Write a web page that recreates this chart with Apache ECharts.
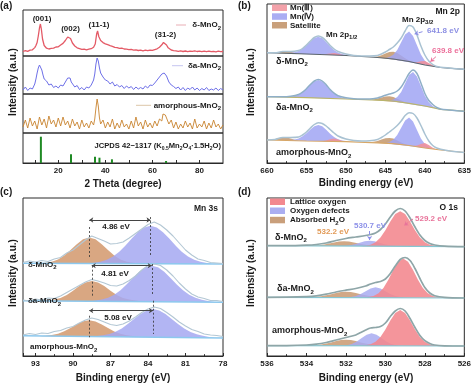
<!DOCTYPE html>
<html><head><meta charset="utf-8">
<script src="https://cdn.jsdelivr.net/npm/echarts@6/dist/echarts.min.js"></script>
<style>html,body{margin:0;padding:0;background:#fff}#c{width:474px;height:387px}</style>
</head><body><div id="c"></div>
<script>
// ---------------- (a) XRD ----------------
const xrdTicks = [20, 40, 60, 80];
const xrdDelta = [[5,4.5],[6,5.4],[7,4.6],[8,5.8],[9,6.2],[10,8.4],[10.5,10.5],[11,13.5],[11.5,20],[12,28],[12.4,32],[12.8,27],[13.3,17],[14,10.5],[15,7.8],[16,7],[17,7.6],[18,7.8],[19,9],[20,9.2],[21,11],[22,12.6],[23,15.5],[24,19],[24.6,21],[25.2,17.5],[26,13],[27,10],[28,8.2],[29,7.4],[30,6.6],[31,6.9],[32,6.1],[33,6.8],[34,7.3],[35,8.8],[35.7,12],[36.3,22],[36.7,25],[37.2,19.5],[38,15.5],[39,13.4],[40,12.2],[41,11.3],[42,10.4],[43,9.7],[44,8.6],[45,8.4],[46,7.6],[47,7.8],[48,7],[49,6.9],[50,6.4],[51,6.6],[52,5.9],[53,6.1],[54,5.5],[55,5.9],[56,5.2],[57,5.8],[58,5.3],[59,5.9],[60,5.6],[61,6.4],[62,7.2],[63,8.8],[64,11.2],[64.7,13.5],[65.3,14],[66,11],[66.7,8.2],[67.5,6.6],[68,6],[69,5.4],[70,5.2],[71,4.7],[72,5.1],[73,4.5],[74,5],[75,4.4],[76,4.9],[77,4.6],[78,5.2],[79,4.5],[80,4.9],[81,4.3],[82,4.8],[83,4.4],[84,4.9],[85,4.3],[86,4.7],[87,4.2],[88,4.8],[89,4.3],[90,4.5]];
const xrdDeltaA = [[5,4],[6,7],[7,3.5],[8,6],[9,5],[10,10],[10.5,15],[11,21],[11.5,26],[12,29],[12.5,28],[13,24],[13.5,19],[14,15],[15,13],[16,9],[17,10],[18,6.5],[19,8],[20,6],[21,9],[22,8],[23,12],[23.5,13],[24,16],[24.5,15],[25,16],[25.5,12],[26,10],[27,7],[28,8.5],[29,4.5],[30,6.5],[31,4],[32,7],[33,6],[34,9],[35,14],[35.5,20],[36,30],[36.5,36],[37,33],[37.5,26],[38,21],[39,17],[40,14],[41,13],[42,10],[43,12],[44,8],[45,9.5],[46,7],[47,8.5],[48,5.5],[49,8],[50,6],[51,7.5],[52,4.5],[53,7],[54,5],[55,6.5],[56,5],[57,8],[58,6],[59,9],[60,8.5],[61,11],[62,14],[63,17],[63.5,19],[64,20],[64.5,22],[65,21],[65.5,20],[66,18],[67,12],[68,9],[69,7.5],[70,5.5],[71,7],[72,4],[73,6.5],[74,3.5],[75,6],[76,4.5],[77,7],[78,4],[79,6],[80,3.5],[81,5.5],[82,4],[83,6.5],[84,3.5],[85,5],[86,4],[87,6],[88,3.5],[89,5.5],[90,4]];
const xrdAmor = [[5,6],[6,13],[7,5],[8,15],[9,7],[10,12],[11,4],[12,16],[13,8],[14,14],[15,5],[16,17],[17,9],[18,13],[19,6],[20,15],[21,7],[22,16],[23,8],[24,12],[25,5],[26,14],[27,7],[28,11],[29,4],[30,13],[31,6],[32,10],[33,5],[34,12],[35,8],[35.5,14],[36,25],[36.5,34],[37,27],[37.5,15],[38,9],[39,13],[40,5],[41,11],[42,6],[43,14],[44,4],[45,10],[46,5],[47,13],[48,6],[49,9],[50,4],[51,12],[52,5],[53,16],[54,7],[55,11],[56,4],[57,13],[58,6],[59,10],[60,5],[61,12],[62,7],[63,14],[64,12],[64.5,19],[65,21],[65.5,18],[66,20],[66.5,12],[67,9],[68,13],[69,5],[70,11],[71,4],[72,9],[73,5],[74,12],[75,6],[76,10],[77,4],[78,14],[79,5],[80,9],[81,6],[82,12],[83,4],[84,10],[85,5],[86,13],[87,6],[88,9],[89,4],[90,8]];
const jcpds = [[12.6,26.3],[25.4,8.7],[35.6,6.3],[37.5,5.3],[42.8,3.7],[65.8,2]];

// ---------------- (b) Mn 2p ----------------
const mn2pBaseD = [[660,110.3],[655,109],[650,107.5],[646,105.5],[644,104],[642,101.5],[640,98],[638,95.5],[635,93.7]];
const mn2pEnvD = [[660,110.3],[659,110.2],[658,111.5],[657,111.5],[656,112.5],[655.5,114.5],[655,118],[654.5,122],[654,125.5],[653.5,127],[653,125.5],[652.5,122],[652,117.5],[651.5,114],[651,111.5],[650,109],[649,107.5],[648,107],[647,107],[646,107.5],[645.5,109],[645,111],[644.5,113.5],[644,116],[643.5,120],[643,125],[642.5,132],[642,137.5],[641.5,136],[641,128],[640.5,117],[640,108],[639.5,102],[639,98.5],[638.5,96.5],[638,95.8],[637,95],[636,94.3],[635,93.8]];
const mn2pIVD = [
 [[657.5,109.6],[657,110.2],[656.5,110.8],[656,112.0],[655.5,114.2],[655,117.5],[654.5,121.6],[654,125.0],[653.5,126.3],[653,124.7],[652.5,121.0],[652,116.6],[651.5,113.0],[651,110.5],[650.5,109.1],[650,108.2],[649.5,107.3]],
 [[645,104.8],[644.5,105.9],[644,108.2],[643.5,113],[643,120.8],[642.5,128.6],[642,131.5],[641.5,127.1],[641,117.8],[640.5,108.5],[640,102.2],[639.5,98.8],[639,96.7]]
];
const mn2pIIID = [
 [[653,108.4],[652.5,108.9],[652,109.6],[651.5,110],[651,109.3],[650.5,108.3],[650,107.5]],
 [[641.5,100.7],[641,100.8],[640.5,101.7],[640,102],[639.5,100.1],[639,97.7],[638.5,96.1]]
];
const mn2pSatD = [
 [[659,110],[658.5,110.7],[658,111.6],[657.5,111.8],[657,111.3],[656.5,110.2],[656,109.3]],
 [[646.5,105.9],[646,106.4],[645.5,107.8],[645,109.5],[644.5,111.0],[644,111.3],[643.5,110.0],[643,107.5],[642.5,104.8],[642,102.4],[641.5,100.7]]
];
const mn2pBaseDA = [[660,66.3],[655,65.3],[650,64],[646,62.8],[644,62],[642,59.7],[640,57],[638,53.7],[635,51.8]];
const mn2pEnvDA = [[660,66.3],[658,66.2],[657,66.8],[656,68.5],[655.5,70.8],[655,74.3],[654.5,78.5],[654,82],[653.5,83.5],[653,82],[652.5,78.2],[652,73.5],[651.5,69.8],[651,67.3],[650,65.3],[649,64.3],[648,64],[647,64],[646,65],[645.5,66.3],[645,67.8],[644.5,69],[644,70],[643.5,72],[643,76],[642.5,82.5],[642,89.5],[641.5,93],[641,89.5],[640.5,80],[640,69.5],[639.5,62.5],[639,58.5],[638.5,55.5],[638,54],[637,53],[636,52.3],[635,51.8]];
const mn2pIVDA = [
 [[657.5,65.8],[657,66.4],[656.5,67.0],[656,68.2],[655.5,70.4],[655,73.9],[654.5,78.2],[654,81.6],[653.5,82.9],[653,81.4],[652.5,77.6],[652,73.1],[651.5,69.4],[651,67.0],[650.5,65.5],[650,64.7],[649.5,63.9]],
 [[644.5,62.2],[644,63.6],[643.5,65.9],[643,71.1],[642.5,79.5],[642,87.9],[641.5,91],[641,86.5],[640.5,76.9],[640,67.2],[639.5,60.7],[639,57.0],[638.5,54.5]]
];
const mn2pSatDA = [
 [[647,63.2],[646.5,63.5],[646,64.4],[645.5,65.5],[645,66.5],[644.5,66.7],[644,66.1],[643.5,64.3],[643,62.5],[642.5,60.8],[642,59.7]]
];
const mn2pBaseAm = [[660,23],[655,22],[650,21.3],[646,20.2],[644,19.4],[642,17.5],[640,15],[638,13],[635,10.5]];
const mn2pEnvAm = [[660,23],[659,23.5],[658,25.5],[657,25.5],[656,26],[655.5,28],[655,31],[654.5,35],[654,38.5],[653.5,40.3],[653,39.5],[652.5,37],[652,33.5],[651.5,30],[651,27],[650,24],[649,22.5],[648,22],[647,22.3],[646,23.5],[645.5,25.5],[645,28],[644.5,31],[644,34],[643.5,37.5],[643,42],[642.5,47.5],[642,50.3],[641.5,49.5],[641,45],[640.5,37.5],[640,29],[639.5,22],[639,17.5],[638.5,15],[638,13.8],[637,12.3],[636,11.3],[635,10.5]];
const mn2pIVAm = [
 [[657.5,22.5],[657,23.1],[656.5,23.6],[656,24.6],[655.5,26.7],[655,29.8],[654.5,33.6],[654,36.8],[653.5,38.0],[653,36.7],[652.5,33.3],[652,29.3],[651.5,26.1],[651,23.8],[650.5,22.6],[650,22.0],[649.5,21.2]],
 [[645,19.8],[644.5,21.0],[644,23.3],[643.5,28],[643,35.3],[642.5,42.6],[642,45.5],[641.5,41.5],[641,33.1],[640.5,24.6],[640,18.9],[639.5,15.9],[639,14]]
];
const mn2pIIIAm = [
 [[653,21.7],[652.5,22.5],[652,23.7],[651.5,24.5],[651,23.6],[650.5,22.2],[650,21.3]],
 [[641.5,16.9],[641,17.6],[640.5,19.1],[640,20],[639.5,18],[639,15.3],[638.5,13.5]]
];
const mn2pSatAm = [
 [[659.5,22.9],[659,23.7],[658.5,24.9],[658,25.6],[657.5,25.5],[657,24.6],[656.5,23.2],[656,22.2]],
 [[647,20.7],[646.5,21.2],[646,22.1],[645.5,23.6],[645,24.8],[644.5,25.1],[644,24.4],[643.5,22.6],[643,20.4],[642.5,18.7],[642,17.5]]
];

// ---------------- (c) Mn 3s ----------------
const mn3sBaseD = [[94,92.8],[78,92]];
const mn3sRawD = [[94,93.5],[93.5,95],[93,94],[92.5,95.5],[92,94.5],[91.5,97],[91,98.5],[90.5,103],[90,106],[89.5,111],[89,116],[88.5,120],[88,117.5],[87.5,115],[87,112],[86.5,112.5],[86,114],[85.5,118],[85,122.5],[84.5,127],[84,131.5],[83.5,134],[83,131],[82.5,126],[82,120],[81.5,113],[81,106],[80.5,101],[80,97],[79.5,95.5],[79,93.5],[78.5,93],[78,92.5]];
const mn3sOrgD = [[92.7,92.6],[92.2,93.3],[91.7,94.3],[91.2,96.6],[90.7,100.5],[90.2,105.9],[89.7,111.8],[89.2,116.7],[88.7,118.5],[88.2,116.7],[87.7,111.8],[87.2,105.9],[86.7,100.5],[86.2,96.6],[85.7,94.3],[85.2,93.2],[84.7,92.4]];
const mn3sBluD = [[88.8,92.3],[88.3,93.2],[87.8,94.3],[87.3,96.3],[86.8,99.5],[86.3,104.3],[85.8,110.5],[85.3,117.5],[84.8,123.9],[84.3,128.6],[83.8,130.3],[83.3,128.5],[82.8,123.8],[82.3,117.4],[81.8,110.4],[81.3,104.2],[80.8,99.4],[80.3,96.2],[79.8,94.2],[79.3,93.1],[78.8,92.1]];
const mn3sBaseDA = [[94,55.3],[78,53.7]];
const mn3sRawDA = [[94,56],[93.5,55],[93,57],[92.5,56],[92,58],[91.5,57.5],[91,60],[90.5,63.5],[90,67],[89.5,70.5],[89,74],[88.5,76.5],[88,75],[87.5,73],[87,70.5],[86.5,70],[86,72],[85.5,75.5],[85,80],[84.5,86],[84,90.5],[83.5,92],[83,90.5],[82.5,86],[82,80],[81.5,73],[81,67],[80.5,62],[80,59],[79.5,57.5],[79,55.5],[78.5,55.5],[78,54.5]];
const mn3sOrgDA = [[92.5,55],[92,55.5],[91.5,56.4],[91,58.1],[90.5,61.1],[90,65.3],[89.5,69.9],[89,73.6],[88.5,75.0],[88,73.6],[87.5,69.9],[87,65.3],[86.5,61.1],[86,58.1],[85.5,56.4],[85,55.5],[84.5,54.8]];
const mn3sBluDA = [[88.7,54.6],[88.2,55.4],[87.7,56.4],[87.2,58.3],[86.7,61.3],[86.2,65.8],[85.7,71.7],[85.2,78.2],[84.7,84.3],[84.2,88.7],[83.7,90.3],[83.2,88.7],[82.7,84.2],[82.2,78.1],[81.7,71.6],[81.2,65.7],[80.7,61.2],[80.2,58.2],[79.7,56.2],[79.2,55.1],[78.7,54.1]];
const mn3sBaseAm = [[94,20.3],[78,18]];
const mn3sRawAm = [[94,21],[93.5,22.5],[93,21.5],[92.5,23],[92,22.5],[91.5,24.5],[91,25.5],[90.5,28],[90,29.5],[89.5,33],[89,36],[88.5,38],[88,36.5],[87.5,34],[87,31.5],[86.5,30.5],[86,32],[85.5,35],[85,39],[84.5,43.5],[84,47],[83.5,49],[83,47.5],[82.5,43.5],[82,39],[81.5,34],[81,30],[80.5,26.5],[80,24.5],[79.5,22],[79,21],[78.5,20.5],[78,19.5]];
const mn3sOrgAm = [[92.7,19.8],[92.2,20.2],[91.7,20.9],[91.2,22.3],[90.7,24.7],[90.2,28.0],[89.7,31.7],[89.2,34.7],[88.7,35.8],[88.2,34.6],[87.7,31.6],[87.2,27.9],[86.7,24.6],[86.2,22.2],[85.7,20.8],[85.2,20.0],[84.7,19.3]];
const mn3sBluAm = [[88.6,19.2],[88.1,19.9],[87.6,20.7],[87.1,22.0],[86.6,24.3],[86.1,27.6],[85.6,32.2],[85.1,37.3],[84.6,42.1],[84.1,45.6],[83.6,47.0],[83.1,45.5],[82.6,42.0],[82.1,37.1],[81.6,32.0],[81.1,27.4],[80.6,24.0],[80.1,21.7],[79.6,20.3],[79.1,19.1],[78.6,18.2]];
const mn3sSplit = [["4.86 eV", 88.7, 83.8], ["4.81 eV", 88.5, 83.7], ["5.08 eV", 88.7, 83.6]];

// ---------------- (d) O 1s ----------------
const o1sBaseD = [[536,110.3],[526,109.3]];
const o1sEnvD = [[536,110.3],[535,110.3],[534,110.8],[533.5,111.5],[533,113],[532.5,115.5],[532,117.5],[531.5,119],[531,120.5],[530.75,121.5],[530.5,123],[530.25,126.5],[530,132],[529.75,139],[529.5,145],[529.25,147.5],[529,145],[528.75,138],[528.5,129],[528.25,121],[528,115.5],[527.75,112.5],[527.5,111],[527,109.8],[526,109.3]];
const o1sLatD = [[531.25,109.8],[531,110.3],[530.75,111.3],[530.5,113.8],[530.25,118.5],[530,125.8],[529.75,134.5],[529.5,141.9],[529.25,144.8],[529,141.9],[528.75,134.5],[528.5,125.8],[528.25,118.5],[528,113.8],[527.75,111.3],[527.5,110.3],[527.25,109.6]];
const o1sDefD = [[532.3,110],[532.05,110.3],[531.8,110.8],[531.55,111.8],[531.3,113.3],[531.05,114.7],[530.8,115.3],[530.55,114.7],[530.3,113.3],[530.05,111.8],[529.8,110.8],[529.55,110.3],[529.3,110]];
const o1sH2OD = [[534.1,110.1],[533.85,110.2],[533.6,110.4],[533.35,110.8],[533.1,111.5],[532.85,112.4],[532.6,113.5],[532.35,114.4],[532.1,114.7],[531.85,114.4],[531.6,113.5],[531.35,112.4],[531.1,111.5],[530.85,110.8],[530.6,110.4],[530.35,110.2],[530.1,110]];
const o1sBaseDA = [[536,58.7],[526,58]];
const o1sEnvDA = [[536,58.7],[535,58.8],[534,59.4],[533.5,60.2],[533,61.8],[532.5,64],[532,65.8],[531.5,67.5],[531,70],[530.75,72],[530.5,73.5],[530.25,74.5],[530,77],[529.75,82.5],[529.5,90],[529.25,96.5],[529,98.5],[528.75,95.5],[528.5,87.5],[528.25,77.5],[528,68.5],[527.75,63],[527.5,60.3],[527,58.6],[526,58]];
const o1sLatDA = [[531.1,58.3],[530.85,58.9],[530.6,60.0],[530.35,62.8],[530.1,68.1],[529.85,76.3],[529.6,86.1],[529.35,94.3],[529.1,97.6],[528.85,94.3],[528.6,86.1],[528.35,76.3],[528.1,68.1],[527.85,62.8],[527.6,60.0],[527.35,58.9],[527.1,58.2]];
const o1sDefDA = [[532,58.5],[531.75,58.9],[531.5,59.9],[531.25,61.9],[531,64.8],[530.75,67.5],[530.5,68.7],[530.25,67.5],[530,64.8],[529.75,61.9],[529.5,59.9],[529.25,58.9],[529,58.4]];
const o1sH2ODA = [[534.25,58.6],[534,58.7],[533.75,58.9],[533.5,59.2],[533.25,59.8],[533,60.7],[532.75,61.8],[532.5,63.0],[532.25,63.9],[532,64.3],[531.75,63.9],[531.5,63.0],[531.25,61.8],[531,60.7],[530.75,59.8],[530.5,59.2],[530.25,58.9],[530,58.7],[529.75,58.6]];
const o1sBaseAm = [[536,10.3],[526,10]];
const o1sEnvAm = [[536,10.3],[535,10.4],[534,11],[533.5,11.8],[533,13.5],[532.5,16],[532,18.5],[531.5,21],[531.25,23.5],[531,26],[530.75,28],[530.5,28.5],[530.25,29.5],[530,33],[529.75,39.5],[529.5,45],[529.25,47.5],[529,45],[528.75,37.5],[528.5,28.5],[528.25,20.5],[528,15.3],[527.75,12.5],[527.5,11],[527,10.2],[526,10]];
const o1sLatAm = [[531.25,10.2],[531,10.7],[530.75,11.8],[530.5,14.3],[530.25,19.1],[530,26.6],[529.75,35.5],[529.5,43.0],[529.25,46.0],[529,43.0],[528.75,35.5],[528.5,26.6],[528.25,19.1],[528,14.3],[527.75,11.8],[527.5,10.7],[527.25,10.1]];
const o1sDefAm = [[532.2,10.2],[531.95,10.8],[531.7,12.0],[531.45,14.5],[531.2,18.0],[530.95,21.3],[530.7,22.7],[530.45,21.3],[530.2,18.0],[529.95,14.5],[529.7,12.0],[529.45,10.8],[529.2,10.2]];
const o1sH2OAm = [[534.25,10.2],[534,10.3],[533.75,10.5],[533.5,10.8],[533.25,11.4],[533,12.4],[532.75,13.6],[532.5,14.9],[532.25,15.9],[532,16.3],[531.75,15.9],[531.5,14.9],[531.25,13.6],[531,12.4],[530.75,11.4],[530.5,10.8],[530.25,10.5],[530,10.3],[529.75,10.2]];

// ---------------- build ----------------
const FF = '"Liberation Sans", Arial, Helvetica, sans-serif';
const INK = '#1a1a1a';
const chart = echarts.init(document.getElementById('c'), null, {renderer: 'canvas'});

function line(gi, data, color, width, smooth, z) {
  return {type: 'line', xAxisIndex: gi, yAxisIndex: gi, data: data, showSymbol: false, symbol: 'none',
    smooth: smooth || false, silent: true, animation: false, z: z || 3,
    lineStyle: {color: color, width: width}};
}
function fill(gi, pts, color, op, z) {
  return {type: 'custom', coordinateSystem: 'cartesian2d', xAxisIndex: gi, yAxisIndex: gi,
    data: [pts[0]], silent: true, animation: false, clip: false, z: z || 2,
    renderItem: function (params, api) {
      return {type: 'polygon', shape: {points: pts.map(function (p) { return api.coord(p); })},
        style: {fill: color, opacity: op, stroke: null}};
    }};
}
function T(x, y, text, o) {
  o = o || {};
  const fs = o.fs || 8, col = o.fill || INK;
  return {type: 'text', x: x, y: y, silent: true, rotation: o.rot || 0, z: 50,
    style: {text: text, fontSize: fs, fontWeight: 'bold', fontFamily: FF, fill: col,
      align: o.align || 'left', verticalAlign: 'middle',
      rich: {s: {fontSize: Math.round(fs * 0.72), fontWeight: 'bold', fontFamily: FF, fill: col, padding: [Math.round(fs * 0.7), 0, 0, 0]},
             n: {fontSize: fs, fontWeight: 'bold', fontFamily: FF, fill: col}}}};
}
function R(x, y, w, h, c) { return {type: 'rect', silent: true, z: 50, shape: {x: x, y: y, width: w, height: h}, style: {fill: c}}; }
function L(x1, y1, x2, y2, c, w) { return {type: 'line', silent: true, z: 50, shape: {x1: x1, y1: y1, x2: x2, y2: y2}, style: {stroke: c, lineWidth: w || 1}}; }

const gridBase = {show: true, borderColor: '#2a2a2a', borderWidth: 1, backgroundColor: 'transparent'};
const grids = [
  Object.assign({left: 23, top: 10, width: 200, height: 46}, gridBase),
  Object.assign({left: 23, top: 56, width: 200, height: 38}, gridBase),
  Object.assign({left: 23, top: 94, width: 200, height: 39}, gridBase),
  Object.assign({left: 23, top: 133, width: 200, height: 30}, gridBase),
  Object.assign({left: 267, top: 4, width: 199, height: 159}, gridBase),
  Object.assign({left: 23, top: 198, width: 200, height: 158}, gridBase),
  Object.assign({left: 267, top: 198, width: 199, height: 158}, gridBase)
];
const yMax = [46, 38, 39, 30, 159, 158, 158];
const lab = {color: INK, fontSize: 8, fontWeight: 'bold', fontFamily: FF, margin: 4};
const aLine = {show: true, lineStyle: {color: '#2a2a2a', width: 1}};
const tick = {show: true, inside: true, length: 3, lineStyle: {color: '#2a2a2a'}};
const minor = {show: true, splitNumber: 2, length: 1.8, lineStyle: {color: '#2a2a2a'}};
const xAxes = [
  {gridIndex: 0, type: 'value', min: 5, max: 90, show: false},
  {gridIndex: 1, type: 'value', min: 5, max: 90, show: false},
  {gridIndex: 2, type: 'value', min: 5, max: 90, show: false},
  {gridIndex: 3, type: 'value', min: 5, max: 90, axisLine: aLine, splitLine: {show: false},
    axisTick: Object.assign({customValues: [10, 20, 30, 40, 50, 60, 70, 80]}, tick),
    axisLabel: Object.assign({customValues: xrdTicks}, lab)},
  {gridIndex: 4, type: 'value', min: 635, max: 660, interval: 5, inverse: true, axisLine: aLine, axisTick: tick, minorTick: minor, splitLine: {show: false}, axisLabel: lab},
  {gridIndex: 5, type: 'value', min: 78, max: 94, interval: 3, inverse: true, axisLine: aLine, axisTick: tick, minorTick: minor, splitLine: {show: false}, axisLabel: Object.assign({showMaxLabel: false}, lab)},
  {gridIndex: 6, type: 'value', min: 526, max: 536, interval: 2, inverse: true, axisLine: aLine, axisTick: tick, minorTick: minor, splitLine: {show: false}, axisLabel: lab}
];
const yAxes = yMax.map(function (m, i) { return {gridIndex: i, type: 'value', min: 0, max: m, show: false}; });

const S = [];
// (a)
S.push(line(0, xrdDelta, '#E45A66', 1.3));
S.push(line(1, xrdDeltaA, '#6E70E8', 1.0));
S.push(line(2, xrdAmor, '#C8832F', 0.9));
S.push({type: 'bar', xAxisIndex: 3, yAxisIndex: 3, data: jcpds, barWidth: 2, silent: true, animation: false, itemStyle: {color: '#1F8A24'}});
// (b)
const cIV = '#A0A4F3', cIII = '#F0909C', cSat = '#C69C74';
[[mn2pSatD, mn2pIVD, mn2pIIID], [mn2pSatDA, mn2pIVDA, []], [mn2pSatAm, mn2pIVAm, mn2pIIIAm]].forEach(function (g) {
  g[0].forEach(function (p) { S.push(fill(4, p, cSat, 0.9)); });
  g[1].forEach(function (p) { S.push(fill(4, p, cIV, 0.85)); });
  g[2].forEach(function (p) { S.push(fill(4, p, cIII, 0.9)); });
});
S.push(line(4, mn2pBaseD, '#5F686E', 1.2));
S.push(line(4, mn2pBaseDA, '#B9B46C', 1.2));
S.push(line(4, mn2pBaseAm, '#D7A768', 1.2));
S.push(line(4, mn2pEnvD, '#A9C2D2', 1.5, 0.3, 4));
S.push(line(4, mn2pEnvDA, '#8FAFC8', 1.5, 0.3, 4));
S.push(line(4, mn2pEnvAm, '#A9C2D2', 1.5, 0.3, 4));
S.push({type: 'line', xAxisIndex: 4, yAxisIndex: 4, data: [], silent: true, animation: false,
  markLine: {silent: true, animation: false, symbol: ['none', 'arrow'], symbolSize: 4, label: {show: false},
    data: [
      [{coord: [640.3, 131.3], lineStyle: {color: '#8C8FE6', width: 1}}, {coord: [641.3, 129]}],
      [{coord: [638.6, 106.3], lineStyle: {color: '#EC6F9A', width: 1}}, {coord: [639.3, 101.3]}]
    ]}});
// (c)
const cOrg = '#D6A077', cBlu = '#A4A8F1';
[[mn3sOrgD, mn3sBluD], [mn3sOrgDA, mn3sBluDA], [mn3sOrgAm, mn3sBluAm]].forEach(function (g) {
  S.push(fill(5, g[0], cOrg, 0.92));
  S.push(fill(5, g[1], cBlu, 0.85));
});
[mn3sBaseD, mn3sBaseDA, mn3sBaseAm].forEach(function (b) { S.push(line(5, b, '#8CC8EE', 1.4)); });
[mn3sRawD, mn3sRawDA, mn3sRawAm].forEach(function (r) { S.push(line(5, r, '#B3C7D4', 1.1, false, 4)); });
const arrowY = [136, 90.3, 45.3];
const dashO = [[129, 99], [90.3, 58.7], [40.3, 18.7]];
const dashB = [[139, 100], [92, 62], [55.3, 22]];
const cMarks = [], cDash = [];
mn3sSplit.forEach(function (s, i) {
  cMarks.push([{coord: [s[1], arrowY[i]]}, {coord: [s[2], arrowY[i]]}]);
  cDash.push([{coord: [s[1], dashO[i][0]]}, {coord: [s[1], dashO[i][1]]}]);
  cDash.push([{coord: [s[2], dashB[i][0]]}, {coord: [s[2], dashB[i][1]]}]);
});
S.push({type: 'line', xAxisIndex: 5, yAxisIndex: 5, data: [], silent: true, animation: false,
  markLine: {silent: true, animation: false, symbol: ['arrow', 'arrow'], symbolSize: 4, label: {show: false},
    lineStyle: {color: '#444', width: 1, type: 'solid'}, data: cMarks}});
S.push({type: 'scatter', xAxisIndex: 5, yAxisIndex: 5, data: [], silent: true, animation: false,
  markLine: {silent: true, animation: false, symbol: ['none', 'none'], label: {show: false},
    lineStyle: {color: '#333', width: 0.8, type: [2, 2]}, data: cDash}});
// (d)
const cLat = '#F2868D', cDef = '#A8ACF1', cH2O = '#CC9F79';
[[o1sH2OD, o1sDefD, o1sLatD], [o1sH2ODA, o1sDefDA, o1sLatDA], [o1sH2OAm, o1sDefAm, o1sLatAm]].forEach(function (g) {
  S.push(fill(6, g[0], cH2O, 0.9));
  S.push(fill(6, g[1], cDef, 0.85));
  S.push(fill(6, g[2], cLat, 0.88));
});
[o1sBaseD, o1sBaseDA, o1sBaseAm].forEach(function (b) { S.push(line(6, b, '#84C6D2', 1.2)); });
[o1sEnvD, o1sEnvDA, o1sEnvAm].forEach(function (e) { S.push(line(6, e, '#8EA6A8', 1.7, 0.3, 4)); });
S.push({type: 'line', xAxisIndex: 6, yAxisIndex: 6, data: [], silent: true, animation: false,
  markLine: {silent: true, animation: false, symbol: ['none', 'arrow'], symbolSize: 4, label: {show: false},
    data: [
      [{coord: [530.8, 125], lineStyle: {color: '#8C90E8', width: 1}}, {coord: [530.8, 116]}],
      [{coord: [528.6, 137], lineStyle: {color: '#E8739A', width: 1}}, {coord: [529.05, 130.5]}]
    ]}});

const G = [];
// panel letters
G.push(T(0, 6, '(a)', {fs: 10}), T(238, 6, '(b)', {fs: 10}), T(0, 192, '(c)', {fs: 10}), T(238, 192, '(d)', {fs: 10}));
// axis titles
G.push(T(123, 184, '2 Theta (degree)', {fs: 10, align: 'center'}));
G.push(T(366, 183, 'Binding energy (eV)', {fs: 10, align: 'center'}));
G.push(T(123, 378, 'Binding energy (eV)', {fs: 10, align: 'center'}));
G.push(T(366, 378, 'Binding energy (eV)', {fs: 10, align: 'center'}));
G.push(T(13, 82, 'Intensity (a.u.)', {fs: 10, align: 'center', rot: Math.PI / 2}));
G.push(T(251, 82, 'Intensity (a.u.)', {fs: 10, align: 'center', rot: Math.PI / 2}));
G.push(T(13, 273, 'Intensity (a.u.)', {fs: 10, align: 'center', rot: Math.PI / 2}));
G.push(T(251, 273, 'Intensity (a.u.)', {fs: 10, align: 'center', rot: Math.PI / 2}));
// (a) annotations
G.push(T(42, 18.5, '(001)', {align: 'center'}), T(70.5, 28.5, '(002)', {align: 'center'}),
  T(99, 24.5, '(11-1)', {align: 'center'}), T(165.5, 35, '(31-2)', {align: 'center'}));
G.push(L(176, 25, 186, 25, '#E9AEB5', 1), T(221, 25, 'δ-MnO{s|2}', {align: 'right'}));
G.push(L(172, 65.7, 183, 65.7, '#C6C6F0', 1), T(221, 65.7, 'δa-MnO{s|2}', {align: 'right'}));
G.push(L(136, 105.3, 151, 105.3, '#DCC6A8', 1), T(221, 105.3, 'amorphous-MnO{s|2}', {align: 'right'}));
G.push(T(221, 145.7, 'JCPDS 42−1317 (K{s|0.5}Mn{s|2}O{s|4}·1.5H{s|2}O)', {align: 'right', fs: 7.6}));
// (b) annotations
G.push(R(272, 4.5, 15, 6.5, '#F3A2AA'), R(272, 13.3, 15, 6.5, '#AAADF3'), R(272, 22, 15, 6.5, '#C9A07B'));
G.push(T(290, 7.5, 'Mn(Ⅲ)'), T(290, 16.5, 'Mn(Ⅳ)'), T(290, 25.3, 'Satellite'));
G.push(T(460, 12, 'Mn 2p', {align: 'right', fs: 8.5}));
G.push(T(402, 19.5, 'Mn 2p{s|3/2}'), T(326, 34.5, 'Mn 2p{s|1/2}'));
G.push(T(427, 31, '641.8 eV', {fill: '#8C8FE3'}), T(432, 51, '639.8 eV', {fill: '#EC6F9A'}));
G.push(T(276, 61.5, 'δ-MnO{s|2}', {fs: 9}), T(276, 107.5, 'δa-MnO{s|2}', {fs: 9}), T(276, 153, 'amorphous-MnO{s|2}', {fs: 9}));
// (c) annotations
G.push(T(218, 209, 'Mn 3s', {align: 'right', fs: 8.5}));
G.push(T(116, 227, mn3sSplit[0][0], {align: 'center'}), T(115, 274, mn3sSplit[1][0], {align: 'center'}), T(118, 318, mn3sSplit[2][0], {align: 'center'}));
G.push(T(28, 264.5, 'δ-MnO{s|2}'), T(28, 301, 'δa-MnO{s|2}'), T(30, 347, 'amorphous-MnO{s|2}'));
// (d) annotations
G.push(R(270, 198.5, 15, 6.5, '#F2888F'), R(270, 207.5, 15, 6.5, '#ABAEF1'), R(270, 216.8, 15, 6.5, '#C99F7B'));
G.push(T(290, 201.7, 'Lattice oxygen'), T(290, 210.8, 'Oxygen defects'), T(290, 220, 'Absorbed H{s|2}O'));
G.push(T(458, 208, 'O 1s', {align: 'right', fs: 8.5}));
G.push(T(333, 232, '532.2 eV', {align: 'center', fill: '#E29A57'}), T(370, 226, '530.7 eV', {align: 'center', fill: '#8C90E8'}), T(415, 219, '529.2 eV', {fill: '#E8739A'}));
G.push(T(275, 237.5, 'δ-MnO{s|2}', {fs: 9}), T(277, 289, 'δa-MnO{s|2}', {fs: 9}), T(272, 331, 'amorphous-MnO{s|2}', {fs: 9}));

chart.setOption({
  animation: false,
  backgroundColor: '#fff',
  grid: grids, xAxis: xAxes, yAxis: yAxes, series: S, graphic: G
});
</script></body></html>
